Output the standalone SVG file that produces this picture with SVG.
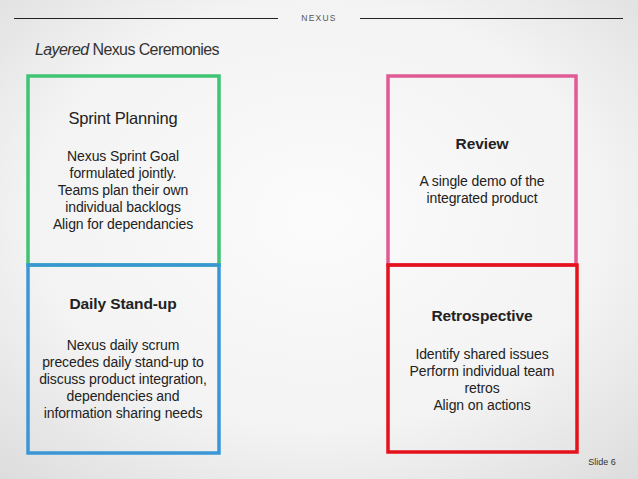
<svg xmlns="http://www.w3.org/2000/svg" width="638" height="479" viewBox="0 0 638 479">
<defs>
<radialGradient id="bg" cx="0.5" cy="0.45" r="0.75">
<stop offset="0" stop-color="#fbfbfb"/>
<stop offset="0.6" stop-color="#f3f3f3"/>
<stop offset="1" stop-color="#dcdcdc"/>
</radialGradient>
<style>
text{font-family:"Liberation Sans",Arial,sans-serif;fill:#222;text-anchor:middle}
.h{font-size:16.5px;letter-spacing:-0.2px}
.b{font-size:15.5px;font-weight:bold;letter-spacing:-0.1px}
.t{font-size:14px;letter-spacing:-0.1px}
.box{fill:none;stroke-width:3.5}
</style>
</defs>
<rect width="638" height="479" fill="url(#bg)"/>
<g id="header">
<line x1="14" y1="18.5" x2="278" y2="18.5" stroke="#222" stroke-width="1"/>
<line x1="360" y1="18.5" x2="623" y2="18.5" stroke="#222" stroke-width="1"/>
<text x="319" y="21" style="font-size:8.5px;letter-spacing:1.2px;fill:#555">NEXUS</text>
<text x="35" y="55" style="font-size:16px;letter-spacing:-0.6px;text-anchor:start;fill:#333"><tspan font-style="italic">Layered</tspan> Nexus Ceremonies</text>
</g>
<g id="connectors"></g>
<g id="sprint-planning">
<rect class="box" x="28" y="76" width="191" height="189" stroke="#3ec472"/>
<text class="h" x="123" y="124">Sprint Planning</text>
<text class="t" x="123" y="161">Nexus Sprint Goal</text>
<text class="t" x="123" y="178">formulated jointly.</text>
<text class="t" x="123" y="195">Teams plan their own</text>
<text class="t" x="123" y="212">individual backlogs</text>
<text class="t" x="123" y="229">Align for dependancies</text>
</g>
<g id="daily-standup">
<rect class="box" x="28" y="265" width="191" height="188" stroke="#3a97d6"/>
<text class="b" x="123" y="309">Daily Stand-up</text>
<text class="t" x="123" y="350">Nexus daily scrum</text>
<text class="t" x="123" y="367">precedes daily stand-up to</text>
<text class="t" x="123" y="384">discuss product integration,</text>
<text class="t" x="123" y="401">dependencies and</text>
<text class="t" x="123" y="418">information sharing needs</text>
</g>
<g id="review">
<rect class="box" x="388" y="76" width="188" height="189" stroke="#e05a95"/>
<text class="b" x="482" y="149">Review</text>
<text class="t" x="482" y="186">A single demo of the</text>
<text class="t" x="482" y="203">integrated product</text>
</g>
<g id="retrospective">
<rect class="box" x="388" y="265" width="189" height="187" stroke="#e5121c"/>
<text class="b" x="482" y="321">Retrospective</text>
<text class="t" x="482" y="359">Identify shared issues</text>
<text class="t" x="482" y="376">Perform individual team</text>
<text class="t" x="482" y="393">retros</text>
<text class="t" x="482" y="410">Align on actions</text>
</g>
<g id="footer">
<text x="602" y="465" style="font-size:9px;fill:#333">Slide 6</text>
</g>
</svg>
